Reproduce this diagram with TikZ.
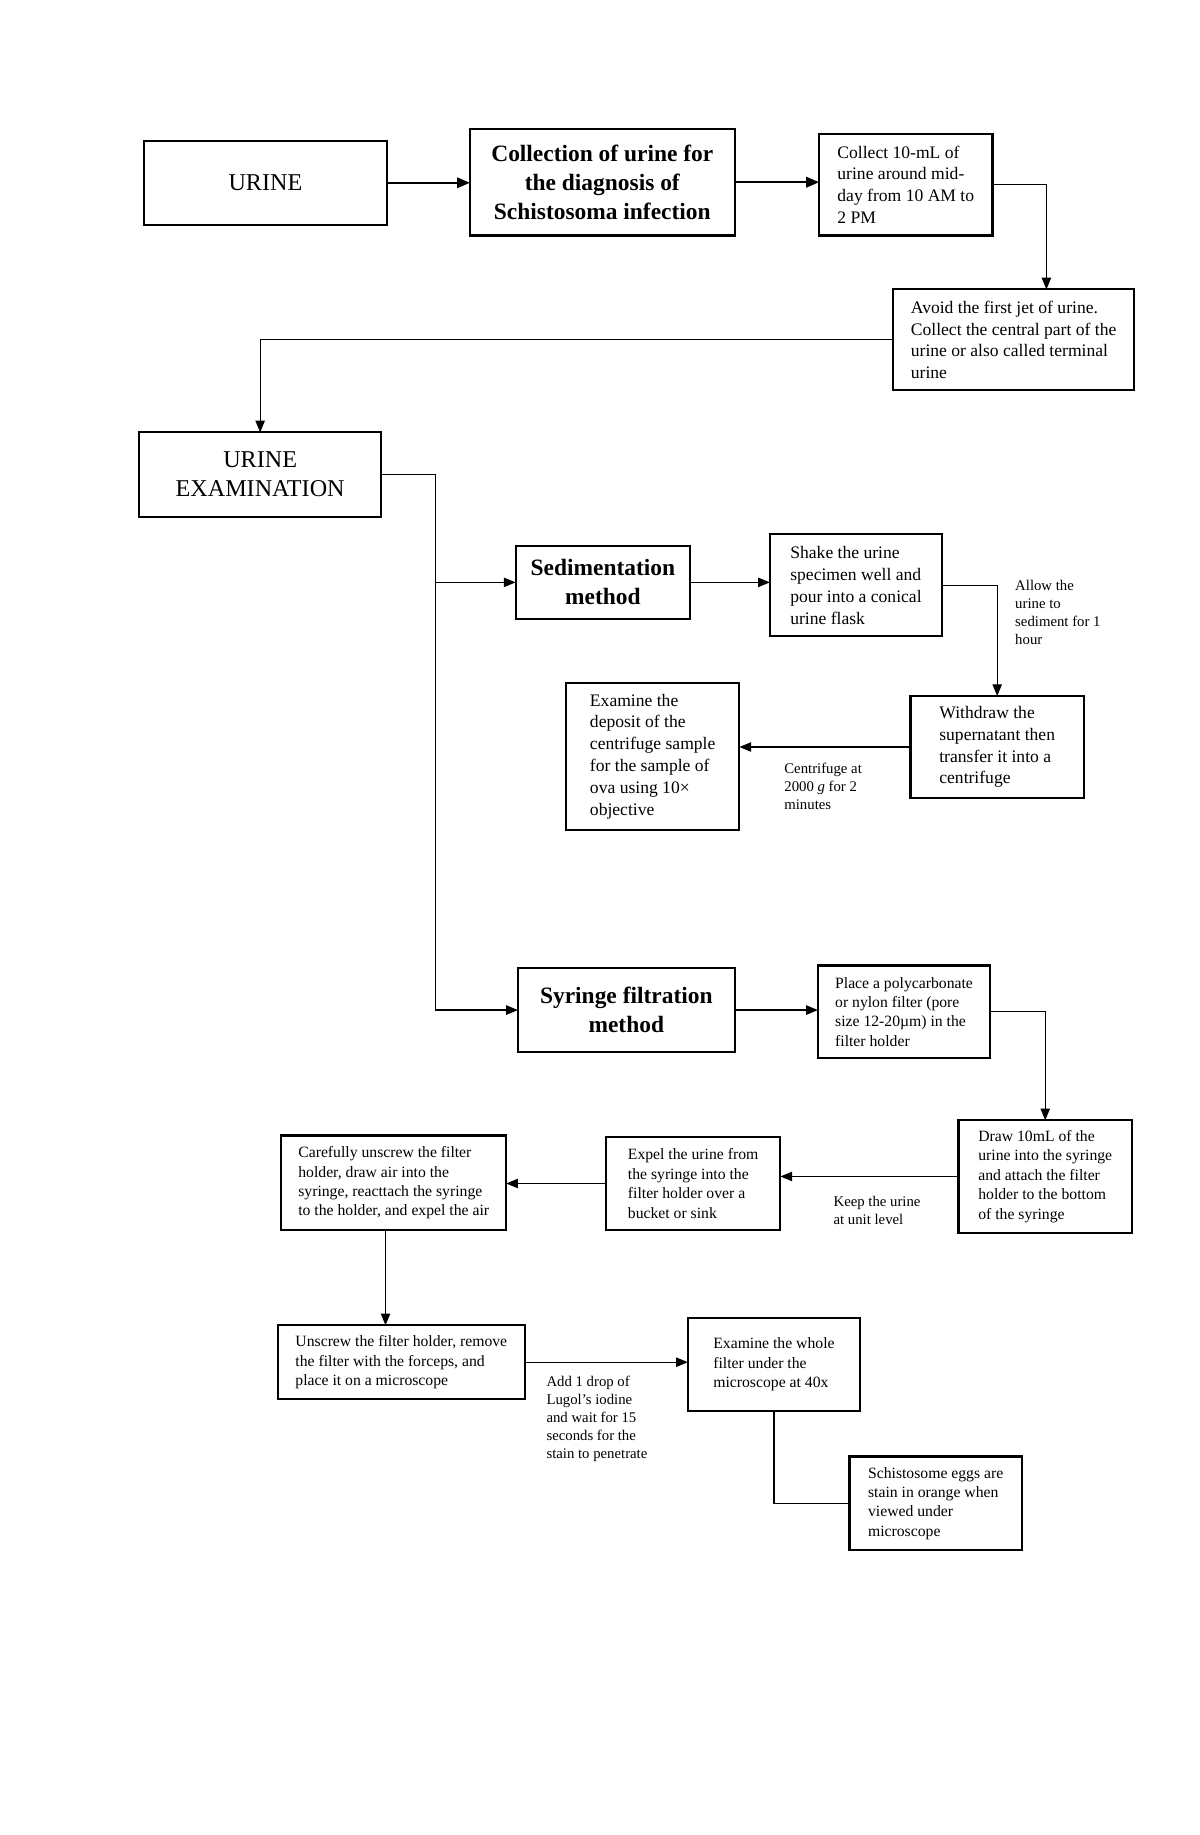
\documentclass[tikz,border=0pt]{standalone}
\usepackage{fontspec}
\setmainfont{Liberation Serif}
\usetikzlibrary{arrows.meta,calc}
\tikzset{
  box/.style={draw, line width=0.9pt, inner sep=0pt, outer sep=0pt},
  plain/.style={box, font=\fontsize{10.3}{12.3}\selectfont, align=center},
  title/.style={box, font=\bfseries\fontsize{10}{12.3}\selectfont, align=center},
  txtA/.style={box, font=\fontsize{7.5}{9.3}\selectfont, align=left},
  txtB/.style={box, font=\fontsize{6.7}{8.3}\selectfont, align=left},
  lbl/.style={font=\fontsize{6.3}{7.7}\selectfont, align=left, inner sep=0pt, anchor=west},
  conn/.style={line width=0.5pt},
  arr/.style={conn, -{Triangle[length=5pt,width=4pt]}},
  bigarr/.style={line width=0.75pt, -{Triangle[length=5.5pt,width=4.5pt]}},
}
\begin{document}
\begin{tikzpicture}[x=0.5pt,y=-0.5pt]
\useasboundingbox (0,0) rectangle (1024,1566);
% boxes
\node[plain, minimum width=103.5pt, minimum height=36pt] (urine) at (226.5,156) {URINE};
\node[title, minimum width=113pt, minimum height=45.5pt] (coll) at (514,155.5) {Collection of urine for\\the diagnosis of\\Schistosoma infection};
\node[txtA, minimum width=74pt, minimum height=43.5pt] (c10) at (773,157.5) {Collect 10-mL of\\urine around mid-\\day from 10 AM to\\2 PM};
\node[txtA, minimum width=103pt, minimum height=43pt] (avoid) at (865,290) {Avoid the first jet of urine.\\Collect the central part of the\\urine or also called terminal\\urine};
\node[plain, minimum width=103pt, minimum height=36pt] (ue) at (222,405) {URINE\\EXAMINATION};
\node[title, minimum width=74.5pt, minimum height=31pt] (sed) at (514.5,497) {Sedimentation\\method};
\node[txtA, minimum width=73.5pt, minimum height=43.5pt] (shake) at (730.5,499.5) {Shake the urine\\specimen well and\\pour into a conical\\urine flask};
\node[txtA, minimum width=74pt, minimum height=43.5pt] (withdraw) at (851,637.5) {Withdraw the\\supernatant then\\transfer it into a\\centrifuge};
\node[txtA, minimum width=74pt, minimum height=62.5pt] (exam) at (557,645.5) {Examine the\\deposit of the\\centrifuge sample\\for the sample of\\ova using 10×\\objective};
\node[title, minimum width=92.5pt, minimum height=36pt] (syr) at (534.5,862) {Syringe filtration\\method};
\node[txtB, minimum width=73.5pt, minimum height=39.5pt] (place) at (771.5,863.5) {Place a polycarbonate\\or nylon filter (pore\\size 12-20µm) in the\\filter holder};
\node[txtB, minimum width=74pt, minimum height=48pt] (drw) at (892,1004) {Draw 10mL of the\\urine into the syringe\\and attach the filter\\holder to the bottom\\of the syringe};
\node[txtB, minimum width=74.5pt, minimum height=40pt] (expel) at (591.5,1010) {Expel the urine from\\the syringe into the\\filter holder over a\\bucket or sink};
\node[txtB, minimum width=96pt, minimum height=40.5pt] (careful) at (336,1009.5) {Carefully unscrew the filter\\holder, draw air into the\\syringe, reacttach the syringe\\to the holder, and expel the air};
\node[txtB, minimum width=105.5pt, minimum height=31.5pt] (unscrew) at (342.5,1162.5) {Unscrew the filter holder, remove\\the filter with the forceps, and\\place it on a microscope};
\node[txtB, minimum width=73.5pt, minimum height=39.5pt] (exwhole) at (660.5,1164.5) {Examine the whole\\filter under the\\microscope at 40x};
\node[txtB, minimum width=73.5pt, minimum height=40pt] (schisto) at (798.5,1283) {Schistosome eggs are\\stain in orange when\\viewed under\\microscope};
% labels
\node[lbl] (l1) at (866,523) {Allow the\\urine to\\sediment for 1\\hour};
\node[lbl] (l2) at (669,671) {Centrifuge at\\2000 \textit{g} for 2\\minutes};
\node[lbl] (l3) at (711,1033) {Keep the urine\\at unit level};
\node[lbl] (l4) at (466,1211) {Add 1 drop of\\Lugol’s iodine\\and wait for 15\\seconds for the\\stain to penetrate};
% connectors
\draw[bigarr] (urine.east) -- (urine.east -| coll.west);
\draw[bigarr] (coll.east) -- (coll.east -| c10.west);
\draw[arr] (c10.east) -| ([xshift=14pt]avoid.north);
\draw[arr] (avoid.west) -| (ue.north);
\coordinate (trunk) at (372,403);
\draw[arr] (ue.east) -| (trunk |- syr.west) -- (syr.west);
\draw[arr] (trunk |- sed.west) -- (sed.west);
\draw[arr] (sed.east) -- (sed.east -| shake.west);
\draw[arr] (shake.east) -| (withdraw.north);
\draw[arr] (withdraw.west) -- (withdraw.west -| exam.east);
\draw[arr] (syr.east) -- (syr.east -| place.west);
\draw[arr] (place.east) -| (drw.north);
\draw[arr] (drw.west) -- (drw.west -| expel.east);
\draw[arr] (expel.west) -- (expel.west -| careful.east);
\coordinate (cs) at ([xshift=-3.5pt]careful.south);
\draw[arr] (cs) -- (cs |- unscrew.north);
\draw[arr] (unscrew.east) -- (unscrew.east -| exwhole.west);
\draw[conn] (exwhole.south) |- (schisto.west);
\end{tikzpicture}
\end{document}
